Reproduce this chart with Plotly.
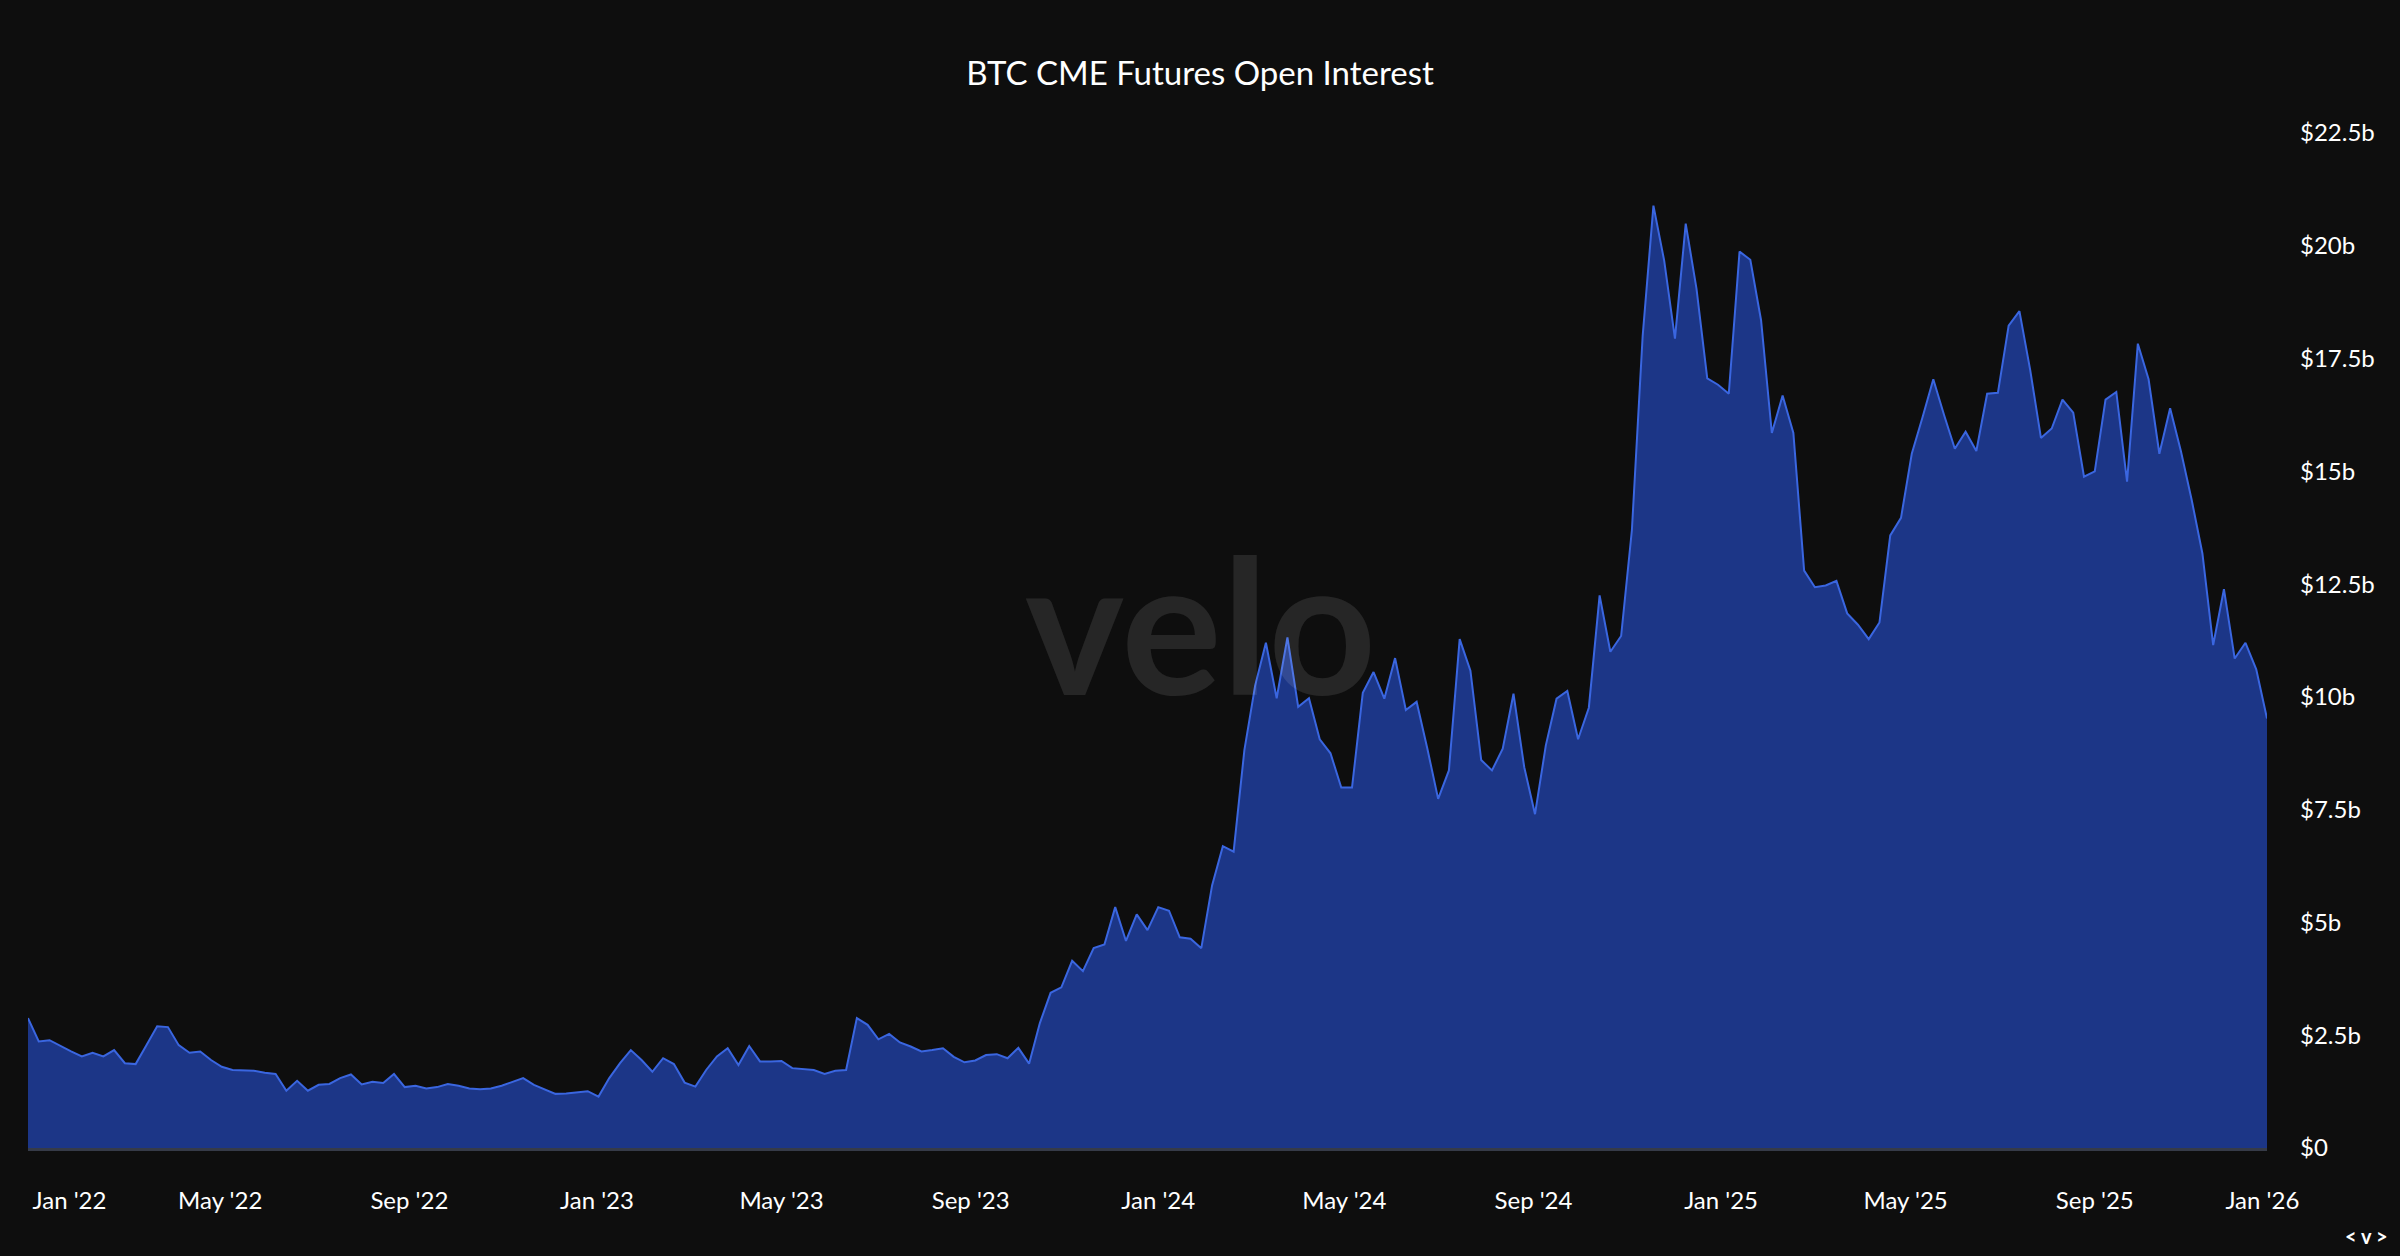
import pandas as pd
import plotly.graph_objects as go

# Weekly BTC CME futures open interest (billions USD), weeks starting 2021-12-27
start_date = "2021-12-27"
oi_billions = [
    2.88, 2.36, 2.39, 2.26, 2.14, 2.03, 2.11, 2.03, 2.17, 1.88,
    1.86, 2.28, 2.70, 2.68, 2.28, 2.11, 2.14, 1.95, 1.80, 1.73,
    1.72, 1.71, 1.67, 1.64, 1.27, 1.49, 1.27, 1.40, 1.42, 1.55,
    1.63, 1.41, 1.47, 1.44, 1.64, 1.35, 1.38, 1.32, 1.35, 1.42,
    1.38, 1.32, 1.30, 1.32, 1.38, 1.47, 1.55, 1.40, 1.30, 1.20,
    1.21, 1.24, 1.26, 1.14, 1.55, 1.88, 2.17, 1.95, 1.69, 1.99,
    1.86, 1.45, 1.36, 1.73, 2.03, 2.21, 1.84, 2.26, 1.92, 1.92,
    1.93, 1.77, 1.75, 1.73, 1.64, 1.71, 1.73, 2.88, 2.73, 2.41,
    2.53, 2.34, 2.25, 2.14, 2.17, 2.21, 2.02, 1.90, 1.94, 2.06,
    2.08, 1.99, 2.22, 1.87, 2.77, 3.44, 3.56, 4.15, 3.92, 4.43,
    4.51, 5.34, 4.59, 5.18, 4.83, 5.34, 5.26, 4.67, 4.64, 4.43,
    5.82, 6.69, 6.57, 8.82, 10.25, 11.20, 9.97, 11.32, 9.78, 9.97,
    9.06, 8.75, 7.99, 7.99, 10.09, 10.55, 9.96, 10.86, 9.71, 9.89,
    8.85, 7.74, 8.37, 11.28, 10.58, 8.60, 8.37, 8.85, 10.07, 8.44,
    7.40, 8.92, 9.96, 10.13, 9.06, 9.76, 12.25, 11.00, 11.35, 13.70,
    18.00, 20.89, 19.67, 17.94, 20.49, 19.05, 17.06, 16.92, 16.72, 19.87,
    19.69, 18.35, 15.85, 16.68, 15.85, 12.80, 12.43, 12.47, 12.57, 11.85,
    11.60, 11.28, 11.65, 13.58, 13.97, 15.39, 16.20, 17.04, 16.25, 15.50,
    15.88, 15.45, 16.72, 16.74, 18.23, 18.55, 17.25, 15.74, 15.95, 16.59,
    16.30, 14.88, 15.00, 16.59, 16.76, 14.77, 17.83, 17.04, 15.39, 16.40,
    15.45, 14.37, 13.18, 11.15, 12.39, 10.85, 11.20, 10.61, 9.52,
]
dates = pd.date_range(start_date, periods=len(oi_billions), freq="7D")

x_tick_dates = ["2022-01-01", "2022-05-01", "2022-09-01", "2023-01-01", "2023-05-01",
                "2023-09-01", "2024-01-01", "2024-05-01", "2024-09-01", "2025-01-01",
                "2025-05-01", "2025-09-01", "2026-01-01"]
x_tick_labels = ["Jan '22", "May '22", "Sep '22", "Jan '23", "May '23", "Sep '23", "Jan '24",
                 "May '24", "Sep '24", "Jan '25", "May '25", "Sep '25", "Jan '26"]
y_tick_vals = [0, 2.5, 5, 7.5, 10, 12.5, 15, 17.5, 20, 22.5]
y_tick_labels = ["$0", "$2.5b", "$5b", "$7.5b", "$10b", "$12.5b", "$15b", "$17.5b", "$20b", "$22.5b"]

# edge labels are pulled inside the plotted range, as in the original
tick_pos = [pd.Timestamp(d) for d in x_tick_dates]
tick_pos[0] = dates[0] + pd.Timedelta(days=27)
tick_pos[-1] = dates[-1] - pd.Timedelta(days=3)

BG = "#0e0e0e"
FONT = "Lato, 'Noto Sans', sans-serif"

fig = go.Figure()
fig.add_trace(go.Scatter(
    x=dates, y=oi_billions, mode="lines",
    line=dict(color="#3a66e0", width=2),
    fill="tozeroy", fillcolor="#1c3687",
    hoverinfo="skip", showlegend=False,
))

ML, MR, MT, MB = 28, 133, 133, 108
W, H = 2400, 1256

fig.update_layout(
    width=W, height=H,
    paper_bgcolor=BG, plot_bgcolor=BG,
    margin=dict(l=ML, r=MR, t=MT, b=MB),
    font=dict(family=FONT, color="#ffffff", size=24),
    title=dict(text="BTC CME Futures Open Interest", x=0.5, xref="container", xanchor="center",
               y=1 - 73 / H, yref="container", yanchor="middle",
               font=dict(size=33, color="#ffffff", family=FONT)),
    xaxis=dict(range=[dates[0], dates[-1]], tickvals=tick_pos, ticktext=x_tick_labels,
               showgrid=False, zeroline=False, showline=True, linecolor="#363b48", linewidth=3,
               ticks="", ticklabelstandoff=29, tickfont=dict(size=24, color="#ffffff")),
    yaxis=dict(range=[0, 22.5], side="right", tickvals=y_tick_vals, ticktext=y_tick_labels,
               showgrid=False, zeroline=False, showline=False, ticks="",
               ticklabelstandoff=32, tickfont=dict(size=24, color="#ffffff")),
)

pw, ph = W - ML - MR, H - MT - MB


def page_to_paper(px, py):
    return (px - ML) / pw, (H - MB - py) / ph


wx, wy = page_to_paper(1200, 622)
vx, vy = page_to_paper(2366, 1236)
fig.add_annotation(text="<b>velo</b>", x=wx, y=wy, xref="paper", yref="paper",
                   showarrow=False, font=dict(size=188, color="rgba(255,255,255,0.10)", family=FONT),
                   xanchor="center", yanchor="middle")
fig.add_annotation(text="<b>&lt; v &gt;</b>", x=vx, y=vy, xref="paper", yref="paper",
                   showarrow=False, font=dict(size=20, color="#ffffff", family=FONT),
                   xanchor="center", yanchor="middle")

fig.write_html("out.html", config={"displayModeBar": False},
               post_script="document.body.style.margin='0';document.body.style.background='#0e0e0e';document.body.style.overflow='hidden';")
